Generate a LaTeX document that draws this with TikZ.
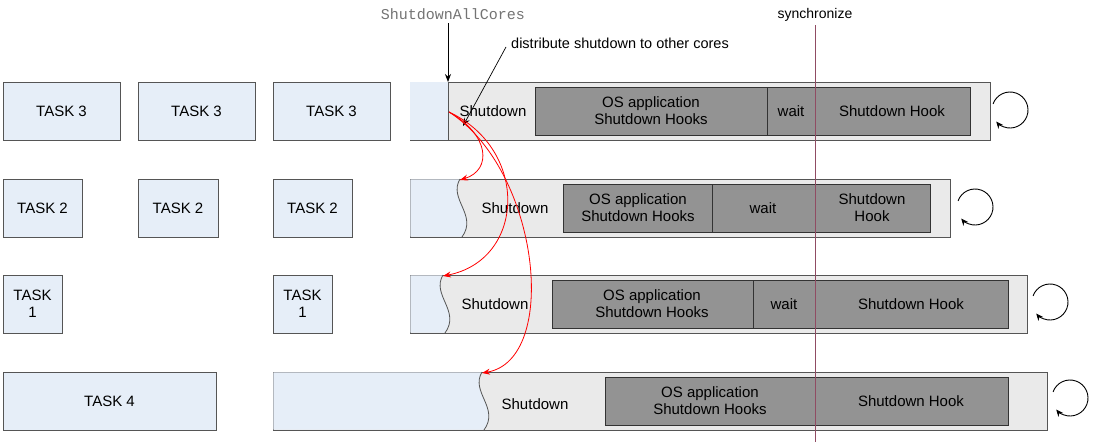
\documentclass[tikz,border=0pt]{standalone}
\usepackage{fontspec}
\setmainfont{Liberation Sans}
\setmonofont{Liberation Mono}
\usetikzlibrary{arrows.meta}
\definecolor{tb}{HTML}{E6EEF8}
\definecolor{bar}{HTML}{EAEAEA}
\definecolor{dk}{HTML}{939393}
\definecolor{bd}{HTML}{555555}
\begin{document}
\begin{tikzpicture}[x=1pt,y=-1pt,
  every node/.style={font=\fontsize{15}{17}\selectfont},
  task/.style={draw=bd,fill=tb,line width=0.8pt},
  barr/.style={draw=bd,fill=bar,line width=0.8pt},
  dark/.style={draw=black!80,fill=dk,line width=0.8pt},
  lbl/.style={align=center,inner sep=0pt},
  wave/.style={draw=bd,line width=0.8pt},
  loop/.style={black,line width=0.9pt,-{Stealth[length=7pt,width=6pt]}},
  redarr/.style={red,line width=0.8pt,-{Stealth[length=8pt,width=6pt]}}]
\useasboundingbox (0,0) rectangle (1101,442);
% row 1
\foreach \a/\b/\n in {3/120/a,138/255/b,273/390/c}{
  \draw[task] (\a,82) rectangle (\b,140);
  \node[lbl] (t1\n) at ({(\a+\b)/2},111) {TASK 3};}
\draw[barr] (410,82) rectangle (990,140);
\fill[tb] (410.4,82.4) rectangle (448,139.6);
\draw[bd,line width=0.8pt] (448,82) -- (448,140);
\node[lbl] (s1) at (493,111) {Shutdown};
\draw[dark] (535,87) rectangle (970,135);
\draw[black!80,line width=0.8pt] (767,87)--(767,135) (815,87)--(815,135);
\node[lbl] at (651,111) {OS application\\Shutdown Hooks};
\node[lbl] at (791,111) {wait};
\node[lbl] at (892,111) {Shutdown Hook};
% row 2
\foreach \a/\b/\n in {3/82/a,138/218/b,273/352/c}{
  \draw[task] (\a,179) rectangle (\b,237);
  \node[lbl] (t2\n) at ({(\a+\b)/2},208) {TASK 2};}
\draw[barr] (410,179) rectangle (950,237);
\fill[tb] (410.4,179.4) -- (460,179.4) .. controls (448,199) and (478,215) .. (462,236.6) -- (410.4,236.6) -- cycle;
\draw[wave] (460,179) .. controls (448,199) and (478,215) .. (462,237);
\coordinate (w2) at (460,180);
\node[lbl] (s2) at (515,208) {Shutdown};
\draw[dark] (563,184) rectangle (930,232);
\draw[black!80,line width=0.8pt] (712,184)--(712,232) (815,184)--(815,232);
\node[lbl] at (638,208) {OS application\\Shutdown Hooks};
\node[lbl] at (763,208) {wait};
\node[lbl] at (872,208) {Shutdown\\Hook};
% row 3
\foreach \a/\b/\n in {3/62/a,273/332/c}{
  \draw[task] (\a,275) rectangle (\b,333);
  \node[lbl] (t3\n) at ({(\a+\b)/2},304) {TASK\\1};}
\draw[barr] (410,275) rectangle (1027,333);
\fill[tb] (410.4,275.4) -- (443,275.4) .. controls (431,295) and (461,311) .. (445,332.6) -- (410.4,332.6) -- cycle;
\draw[wave] (443,275) .. controls (431,295) and (461,311) .. (445,333);
\coordinate (w3) at (443,276);
\node[lbl] (s3) at (495,304) {Shutdown};
\draw[dark] (552,280) rectangle (1008,328);
\draw[black!80,line width=0.8pt] (753,280)--(753,328) (815,280)--(815,328);
\node[lbl] at (652,304) {OS application\\Shutdown Hooks};
\node[lbl] at (784,304) {wait};
\node[lbl] at (911,304) {Shutdown Hook};
% row 4
\draw[task] (3,372) rectangle (216,430);
\node[lbl] (t4) at (109.5,401) {TASK 4};
\draw[barr] (273,372) rectangle (1047,430);
\fill[tb] (273.4,372.4) -- (482,372.4) .. controls (470,392) and (500,408) .. (484,429.6) -- (273.4,429.6) -- cycle;
\draw[wave] (482,372) .. controls (470,392) and (500,408) .. (484,430);
\coordinate (w4) at (482,373);
\node[lbl] (s4) at (535,404) {Shutdown};
\draw[dark] (605,377) rectangle (1008,425);
\draw[black!80,line width=0.8pt] (815,377)--(815,425);
\node[lbl] at (710,401) {OS application\\Shutdown Hooks};
\node[lbl] at (911,401) {Shutdown Hook};
% sync line
\draw[black!50!purple!70!white,line width=0.7pt] (815,25) -- (815,442);
\node[lbl,font=\fontsize{14}{16}\selectfont] (sync) at (815,15) {synchronize};
% loops
\foreach \cx/\cy in {1010/110,975/207,1050/302,1070/398}{
  \draw[loop] ({\cx+18*cos(200)},{\cy+18*sin(200)}) arc[start angle=200,end angle=500,radius=18];}
% top annotations
\node[lbl,font=\ttfamily\fontsize{15}{17}\selectfont,text=black!55] (sac) at (453,14) {ShutdownAllCores};
\coordinate (sacE) at (448,82);
\draw[-{Stealth[length=8pt,width=6pt]},line width=0.7pt] (448,23) -- (sacE);
\node[lbl,anchor=west,font=\fontsize{14.5}{16}\selectfont] (dist) at (511,43) {distribute shutdown to other cores};
\coordinate (dE) at (463,126);
\draw[-{Stealth[length=8pt,width=6pt]},line width=0.7pt] (506,47) -- (dE);
% red
\coordinate (r0) at (449,112);
\draw[redarr] (r0) .. controls (490,135) and (492,170) .. (w2);
\draw[redarr] (r0) .. controls (530,150) and (525,260) .. (w3);
\draw[redarr] (r0) .. controls (540,170) and (560,360) .. (w4);
\end{tikzpicture}
\end{document}
